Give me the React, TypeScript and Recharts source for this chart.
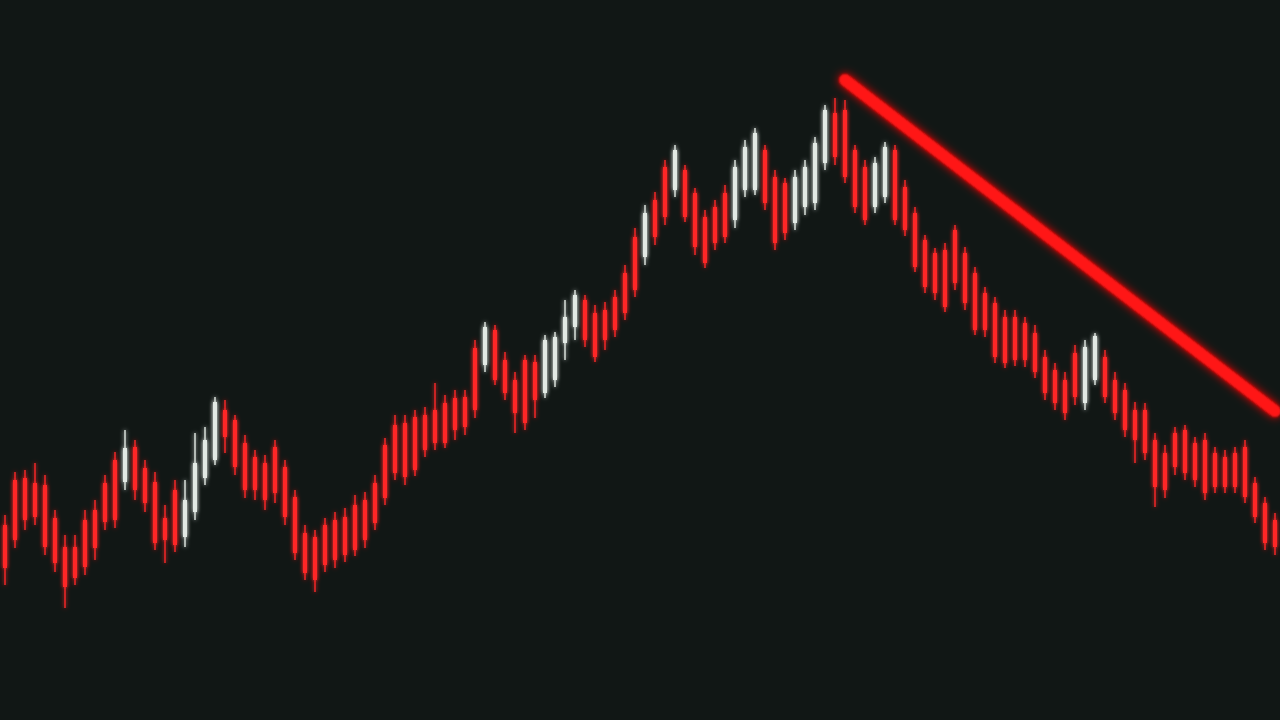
import React from "react";
import { ComposedChart, Bar, Line, XAxis, YAxis, Cell } from "recharts";

// price readings per candle, left to right (chart units, higher = up)
const OPEN = [
  195, 240, 242, 237, 235, 202, 173, 173, 200, 210, 237, 260, 238, 273, 252, 238,
  202, 230, 183, 208, 242, 260, 310, 300, 277, 263, 257, 273, 253, 223, 187, 183,
  195, 200, 203, 215, 220, 237, 275, 295, 297, 303, 305, 310, 317, 322, 323, 372,
  355, 390, 360, 340, 360, 358, 327, 340, 377, 393, 420, 407, 410, 423, 447, 483,
  463, 520, 553, 530, 550, 527, 503, 513, 527, 500, 530, 530, 570, 543, 537, 497,
  513, 517, 557, 607, 610, 570, 553, 513, 523, 570, 533, 507, 480, 467, 470, 490,
  467, 447, 427, 417, 403, 403, 397, 387, 363, 350, 340, 367, 317, 340, 363, 340,
  330, 310, 310, 280, 267, 287, 290, 277, 280, 267, 263, 267, 273, 237, 217, 200,
];
const CLOSE = [
  152, 180, 200, 203, 173, 157, 133, 142, 153, 172, 198, 200, 272, 230, 217, 177,
  180, 175, 220, 257, 280, 318, 283, 253, 230, 230, 220, 227, 203, 167, 147, 140,
  155, 160, 165, 170, 180, 197, 222, 247, 243, 250, 270, 277, 277, 290, 293, 310,
  393, 340, 327, 307, 297, 320, 380, 383, 403, 425, 380, 363, 380, 390, 407, 430,
  507, 483, 503, 570, 503, 473, 457, 477, 483, 553, 573, 587, 517, 477, 487, 543,
  553, 577, 610, 563, 543, 513, 500, 557, 573, 500, 490, 453, 433, 427, 413, 437,
  417, 390, 390, 363, 357, 360, 360, 348, 327, 317, 307, 323, 373, 384, 323, 307,
  290, 280, 267, 233, 230, 253, 247, 240, 227, 233, 233, 233, 223, 203, 177, 173,
];
const HIGH = [
  205, 248, 250, 257, 245, 210, 185, 185, 210, 220, 245, 268, 290, 280, 260, 248,
  215, 240, 240, 287, 293, 323, 320, 305, 285, 270, 265, 280, 260, 230, 195, 190,
  202, 208, 212, 225, 228, 245, 282, 305, 305, 310, 313, 337, 325, 330, 330, 380,
  398, 395, 368, 348, 365, 365, 385, 388, 420, 430, 425, 415, 418, 430, 455, 492,
  515, 528, 560, 575, 555, 532, 510, 520, 535, 560, 580, 592, 575, 550, 542, 550,
  560, 583, 615, 622, 620, 575, 560, 563, 578, 575, 540, 513, 485, 472, 477, 495,
  473, 453, 433, 423, 410, 410, 403, 395, 370, 357, 348, 375, 380, 387, 370, 348,
  337, 318, 317, 287, 275, 293, 295, 283, 287, 273, 270, 273, 280, 243, 223, 207,
];
const LOW = [
  135, 172, 190, 195, 165, 148, 112, 135, 145, 160, 190, 192, 230, 220, 208, 170,
  157, 168, 173, 200, 235, 255, 267, 245, 222, 220, 210, 217, 195, 160, 140, 128,
  148, 152, 158, 164, 172, 190, 215, 240, 235, 244, 263, 270, 272, 280, 285, 302,
  348, 335, 320, 287, 290, 302, 322, 333, 360, 380, 373, 358, 370, 383, 400, 423,
  455, 475, 495, 523, 498, 465, 452, 470, 477, 492, 523, 525, 510, 470, 480, 490,
  505, 510, 550, 555, 537, 507, 495, 507, 517, 495, 484, 448, 427, 420, 408, 430,
  410, 385, 383, 357, 352, 354, 353, 342, 320, 310, 300, 315, 310, 335, 317, 300,
  283, 257, 260, 213, 222, 245, 240, 233, 220, 227, 227, 227, 217, 197, 170, 165,
];
// resistance line drawn from the top (candle 85) down to the last candle
const TREND_START = { index: 84, value: 640 };
const TREND_END = { index: 127, value: 309 };

const BARS = OPEN.map((_, i) => i + 1);

const data = BARS.map((bar, i) => ({
  bar,
  wick: [LOW[i], HIGH[i]],
  body: [Math.min(OPEN[i], CLOSE[i]), Math.max(OPEN[i], CLOSE[i])],
  up: CLOSE[i] > OPEN[i],
  trend: i === TREND_START.index ? TREND_START.value : i === TREND_END.index ? TREND_END.value : null,
}));

const RED = "#ff2626";
const WHITE = "#e2e9e4";

export default function App() {
  return (
    <div style={{ position: "fixed", top: 0, left: 0, width: 1280, height: 720, background: "#111715" }}>
      <ComposedChart width={1280} height={720} data={data} margin={{ top: 0, right: 0, bottom: 0, left: 0 }}>
        <defs>
          <filter id="candleGlow" x="-300%" y="-20%" width="700%" height="140%">
            <feGaussianBlur in="SourceGraphic" stdDeviation="0.7" result="soft" />
            <feGaussianBlur in="SourceGraphic" stdDeviation="2.2" result="blur" />
            <feMerge>
              <feMergeNode in="blur" />
              <feMergeNode in="soft" />
            </feMerge>
          </filter>
          <filter id="lineGlow" x="-20%" y="-20%" width="140%" height="140%">
            <feGaussianBlur in="SourceGraphic" stdDeviation="1" result="soft" />
            <feGaussianBlur in="SourceGraphic" stdDeviation="5" result="blur" />
            <feMerge>
              <feMergeNode in="blur" />
              <feMergeNode in="soft" />
            </feMerge>
          </filter>
        </defs>
        <XAxis xAxisId="wick" dataKey="bar" hide />
        <XAxis xAxisId="body" dataKey="bar" hide />
        <YAxis domain={[0, 720]} hide />
        <Bar xAxisId="wick" dataKey="wick" barSize={2} isAnimationActive={false} style={{ filter: "url(#candleGlow)" }}>
          {data.map((d) => (
            <Cell key={d.bar} fill={d.up ? WHITE : RED} fillOpacity={0.7} />
          ))}
        </Bar>
        <Bar xAxisId="body" dataKey="body" barSize={4} isAnimationActive={false} style={{ filter: "url(#candleGlow)" }}>
          {data.map((d) => (
            <Cell key={d.bar} fill={d.up ? WHITE : RED} />
          ))}
        </Bar>
        <Line
          xAxisId="body"
          dataKey="trend"
          connectNulls
          stroke="#ff1212"
          strokeWidth={12}
          strokeLinecap="round"
          dot={false}
          activeDot={false}
          isAnimationActive={false}
          style={{ filter: "url(#lineGlow)" }}
        />
      </ComposedChart>
    </div>
  );
}
